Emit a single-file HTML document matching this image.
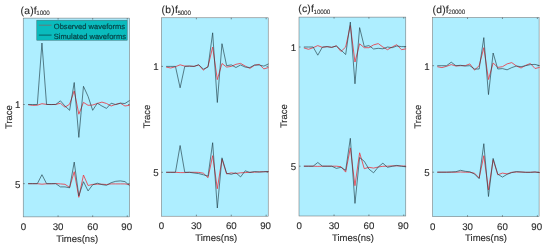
<!DOCTYPE html>
<html><head><meta charset="utf-8"><title>Waveform comparison</title>
<style>
html,body{margin:0;padding:0;background:#fff;}
body{width:550px;height:249px;overflow:hidden;}
svg{display:block;}
text{font-family:'Liberation Sans', Arial, Helvetica, sans-serif;fill:#2a2a2a;text-rendering:geometricPrecision;}
.t{font-size:10.3px;letter-spacing:0.25px;stroke:#2a2a2a;stroke-width:0.12;}
.s{font-size:6.3px;letter-spacing:-0.18px;stroke-width:0.08;}
.k{font-size:9.7px;stroke:#2a2a2a;stroke-width:0.12;}
.l{font-size:9.5px;stroke:#2a2a2a;stroke-width:0.12;}
.g{font-size:7.55px;fill:#073e42;stroke:#073e42;stroke-width:0.2;}
.b{fill:none;stroke:#1e3a44;stroke-opacity:0.85;stroke-width:0.75;stroke-linejoin:round;}
.r{fill:none;stroke:#ea3c48;stroke-width:0.85;stroke-linejoin:round;}
.ax{fill:#aeeeff;stroke:#666;stroke-width:0.5;}
.tk{stroke:#444;stroke-width:0.6;}
</style></head><body>
<svg width="550" height="249" viewBox="0 0 550 249">
<rect x="0" y="0" width="550" height="249" fill="#ffffff"/>
<g id="panel-a">
<rect class="ax" x="23.2" y="18.1" width="106.40" height="198.80"/>
<path class="tk" d="M58.09 18.1v1.5M58.09 216.9v-1.5M92.68 18.1v1.5M92.68 216.9v-1.5M127.27 18.1v1.5M127.27 216.9v-1.5M23.2 104.50h1.6M129.6 104.50h-1.6M23.2 183.65h1.6M129.6 183.65h-1.6"/>
<polyline class="r" points="28.11,104.7 32.72,105.4 37.34,105.2 41.95,103.7 46.56,104.4 51.17,104.6 55.78,104.4 60.40,103.3 65.01,107.2 69.62,104.2 74.23,90.9 78.84,114.2 83.46,102.4 88.07,105.3 92.68,105 97.29,103.5 101.90,102.1 106.52,103.5 111.13,106 115.74,104.3 120.35,103.2 124.96,106 129.58,105.3"/>
<polyline class="b" points="28.11,104.5 32.72,104.5 37.34,104.5 41.95,43 46.56,104.5 51.17,104.5 55.78,104.5 60.40,100.8 65.01,106 69.62,110.3 74.23,82.5 78.84,137.4 83.46,86.3 88.07,96.4 92.68,110.3 97.29,103.2 101.90,106 106.52,108.4 111.13,103.2 115.74,104.6 120.35,103.2 124.96,103.5 129.58,100.5"/>
<polyline class="r" points="28.11,183.7 32.72,183.7 37.34,183.7 41.95,184.2 46.56,183.8 51.17,183.8 55.78,183.6 60.40,183.9 65.01,184.3 69.62,187.4 74.23,171.7 78.84,197.3 83.46,175 88.07,185.5 92.68,184.4 97.29,184.2 101.90,184.2 106.52,184.5 111.13,183.9 115.74,183.9 120.35,183.9 124.96,183.9 129.58,184.6"/>
<polyline class="b" points="28.11,183.65 32.72,183.65 37.34,183.65 41.95,174.7 46.56,183.65 51.17,183.65 55.78,183.65 60.40,186.9 65.01,186.9 69.62,187.8 74.23,162.1 78.84,195.9 83.46,181.7 88.07,190.9 92.68,184.8 97.29,183.2 101.90,184.6 106.52,185.3 111.13,182.7 115.74,181.3 120.35,180.9 124.96,181.6 129.58,185.7"/>
<text class="t" x="20.5" y="13.6">(a)f<tspan class="s" dx="-0.6" dy="1.5">1000</tspan></text>
<text class="k" text-anchor="middle" x="23.50" y="230.1">0</text>
<text class="k" text-anchor="middle" x="58.09" y="230.1">30</text>
<text class="k" text-anchor="middle" x="92.68" y="230.1">60</text>
<text class="k" text-anchor="middle" x="126.67" y="230.1">90</text>
<text class="l" x="56.2" y="242.2">Times(ns)</text>
<text class="k" text-anchor="end" x="20.40" y="108.20">1</text>
<text class="k" text-anchor="end" x="20.40" y="187.60">5</text>
<text class="l" text-anchor="middle" transform="translate(11.60,117.10) rotate(-90)">Trace</text>
<rect x="36.8" y="20.2" width="90.4" height="20" fill="#0abbbd" stroke="#3a6a70" stroke-width="0.5"/>
<path d="M38.8 25.2H51.6" stroke="#8c5f5c" stroke-width="0.7"/>
<path d="M38.8 35.1H51.6" stroke="#063a40" stroke-width="0.7"/>
<text class="g" x="53.8" y="28.7">Observed waveforms</text>
<text class="g" x="53.8" y="38.5">Simulated waveforms</text>
</g>
<g id="panel-b">
<rect class="ax" x="161.4" y="17.8" width="106.80" height="198.40"/>
<path class="tk" d="M196.39 17.8v1.5M196.39 216.2v-1.5M231.28 17.8v1.5M231.28 216.2v-1.5M266.17 17.8v1.5M266.17 216.2v-1.5M161.4 66.40h1.6M268.2 66.40h-1.6M161.4 172.30h1.6M268.2 172.30h-1.6"/>
<polyline class="r" points="166.15,67.1 170.80,68 175.46,66.7 180.11,64.8 184.76,66.1 189.41,66.1 194.06,66.4 198.72,64.9 203.37,70.2 208.02,66.3 212.67,47.1 217.32,79.6 221.98,63.5 226.63,67.1 231.28,66.4 235.93,64.3 240.58,63.4 245.24,66.1 249.89,68.4 254.54,65.3 259.19,64.3 263.84,68.9 268.50,67.5"/>
<polyline class="b" points="166.15,66.4 170.80,66.4 175.46,66.4 180.11,87.8 184.76,66.4 189.41,66.1 194.06,66.4 198.72,64.8 203.37,69.1 208.02,67.1 212.67,32.8 217.32,102.5 221.98,43.7 226.63,65.7 231.28,64.9 235.93,67.5 240.58,65 245.24,67.1 249.89,67.5 254.54,65 259.19,65 263.84,66.1 268.50,63.9"/>
<polyline class="r" points="166.15,172.3 170.80,172.3 175.46,172.3 180.11,172.6 184.76,172.6 189.41,172.3 194.06,172.3 198.72,172.4 203.37,173.2 208.02,177.7 212.67,155.7 217.32,188.7 221.98,159.1 226.63,174 231.28,172.9 235.93,173.5 240.58,172.8 245.24,172.6 249.89,172.2 254.54,172.2 259.19,171.8 263.84,171.8 268.50,171.5"/>
<polyline class="b" points="166.15,172.3 170.80,172.3 175.46,172.3 180.11,145.5 184.76,172.3 189.41,172.3 194.06,173 198.72,173.6 203.37,174.8 208.02,176.1 212.67,142.7 217.32,208 221.98,157.8 226.63,173.3 231.28,174.3 235.93,172.8 240.58,176.9 245.24,170.8 249.89,172.6 254.54,171.5 259.19,172.1 263.84,171.7 268.50,171.5"/>
<text class="t" x="161.6" y="13.3">(b)f<tspan class="s" dx="-0.6" dy="1.5">5000</tspan></text>
<text class="k" text-anchor="middle" x="161.50" y="229.2">0</text>
<text class="k" text-anchor="middle" x="196.39" y="229.2">30</text>
<text class="k" text-anchor="middle" x="231.28" y="229.2">60</text>
<text class="k" text-anchor="middle" x="265.57" y="229.2">90</text>
<text class="l" x="195.3" y="241.2">Times(ns)</text>
<text class="k" text-anchor="end" x="158.60" y="70.20">1</text>
<text class="k" text-anchor="end" x="158.60" y="176.20">5</text>
<text class="l" text-anchor="middle" transform="translate(149.80,116.60) rotate(-90)">Trace</text>
</g>
<g id="panel-c">
<rect class="ax" x="299.0" y="17.1" width="106.80" height="198.90"/>
<path class="tk" d="M334.06 17.1v1.5M334.06 216.0v-1.5M368.92 17.1v1.5M368.92 216.0v-1.5M403.78 17.1v1.5M403.78 216.0v-1.5M299.0 47.00h1.6M405.8 47.00h-1.6M299.0 166.20h1.6M405.8 166.20h-1.6"/>
<polyline class="r" points="303.85,47.9 308.50,49.3 313.14,47.7 317.79,45.6 322.44,47.4 327.09,46.6 331.74,47.4 336.38,45.8 341.03,51.5 345.68,47 350.33,25.5 354.98,62 359.62,43.8 364.27,47.7 368.92,47.7 373.57,44.9 378.22,43.6 382.86,47 387.51,49.7 392.16,47 396.81,44.7 401.46,49.7 406.10,48.8"/>
<polyline class="b" points="303.85,47 308.50,47 313.14,47 317.79,55.2 322.44,47 327.09,46.7 331.74,47.3 336.38,46 341.03,50.1 345.68,54.5 350.33,22.1 354.98,83.8 359.62,27.6 364.27,46.6 368.92,45.6 373.57,49 378.22,48.3 382.86,48.8 387.51,47 392.16,47.7 396.81,46 401.46,46.6 406.10,46.6"/>
<polyline class="r" points="303.85,166.2 308.50,166.2 313.14,166.2 317.79,166.4 322.44,166.2 327.09,166.2 331.74,166.2 336.38,166.2 341.03,166.7 345.68,172.1 350.33,147.9 354.98,185.7 359.62,152.8 364.27,168.7 368.92,167.3 373.57,168.1 378.22,167 382.86,166.3 387.51,166.2 392.16,165.9 396.81,165.9 401.46,165.9 406.10,166.3"/>
<polyline class="b" points="303.85,166.2 308.50,166.2 313.14,166.2 317.79,162.5 322.44,166.2 327.09,166.2 331.74,166.2 336.38,168.4 341.03,167.3 345.68,170.3 350.33,138.3 354.98,203.4 359.62,157.5 364.27,161.3 368.92,169.1 373.57,172.8 378.22,167 382.86,163.2 387.51,167.3 392.16,166.3 396.81,165.4 401.46,166.3 406.10,166.8"/>
<text class="t" x="298.3" y="12.4">(c)f<tspan class="s" dx="-0.6" dy="1.5">10000</tspan></text>
<text class="k" text-anchor="middle" x="299.20" y="229.2">0</text>
<text class="k" text-anchor="middle" x="334.06" y="229.2">30</text>
<text class="k" text-anchor="middle" x="368.92" y="229.2">60</text>
<text class="k" text-anchor="middle" x="403.18" y="229.2">90</text>
<text class="l" x="332.0" y="240.9">Times(ns)</text>
<text class="k" text-anchor="end" x="296.20" y="50.70">1</text>
<text class="k" text-anchor="end" x="296.20" y="170.00">5</text>
<text class="l" text-anchor="middle" transform="translate(287.40,116.15) rotate(-90)">Trace</text>
</g>
<g id="panel-d">
<rect class="ax" x="432.5" y="17.5" width="106.60" height="199.20"/>
<path class="tk" d="M467.52 17.5v1.5M467.52 216.7v-1.5M502.44 17.5v1.5M502.44 216.7v-1.5M537.36 17.5v1.5M537.36 216.7v-1.5M432.5 65.70h1.6M539.1 65.70h-1.6M432.5 172.20h1.6M539.1 172.20h-1.6"/>
<polyline class="r" points="437.26,66.7 441.91,67.6 446.57,66.3 451.22,64.6 455.88,66.0 460.54,65.7 465.19,65.7 469.85,63.9 474.50,70.1 479.16,65.7 483.82,47.7 488.47,79.5 493.13,63.0 497.78,67.4 502.44,66.7 507.10,63.9 511.75,62.6 516.41,66.0 521.06,68.0 525.72,65.3 530.38,63.5 535.03,68.5 539.69,67.4"/>
<polyline class="b" points="437.26,65.7 441.91,65.7 446.57,65.7 451.22,62.2 455.88,65.7 460.54,65.3 465.19,66.0 469.85,65.7 474.50,69.0 479.16,69.0 483.82,37.6 488.47,94.6 493.13,53 497.78,69.0 502.44,68.6 507.10,69.8 511.75,67.6 516.41,66.0 521.06,66.7 525.72,65.7 530.38,64.6 535.03,64.4 539.69,65.7"/>
<polyline class="r" points="437.26,172.2 441.91,172.2 446.57,172.2 451.22,172.2 455.88,172.2 460.54,172 465.19,172.2 469.85,172.3 474.50,173.2 479.16,178 483.82,155.7 488.47,190 493.13,159.7 497.78,174.8 502.44,173.1 507.10,173.9 511.75,172.3 516.41,172 521.06,172 525.72,172.3 530.38,172.3 535.03,172 539.69,172.6"/>
<polyline class="b" points="437.26,172.2 441.91,172.2 446.57,172.2 451.22,172 455.88,171.7 460.54,170.3 465.19,171.3 469.85,171.8 474.50,174 479.16,178.7 483.82,143.7 488.47,196.5 493.13,158.4 497.78,174.2 502.44,177.1 507.10,174.3 511.75,172.6 516.41,171.6 521.06,172 525.72,172.3 530.38,172.3 535.03,172 539.69,172.6"/>
<text class="t" x="432.5" y="12.9">(d)f<tspan class="s" dx="-0.6" dy="1.5">20000</tspan></text>
<text class="k" text-anchor="middle" x="432.60" y="229.5">0</text>
<text class="k" text-anchor="middle" x="467.52" y="229.5">30</text>
<text class="k" text-anchor="middle" x="502.44" y="229.5">60</text>
<text class="k" text-anchor="middle" x="536.76" y="229.5">90</text>
<text class="l" x="465.1" y="241.3">Times(ns)</text>
<text class="k" text-anchor="end" x="429.70" y="70.00">1</text>
<text class="k" text-anchor="end" x="429.70" y="176.20">5</text>
<text class="l" text-anchor="middle" transform="translate(420.90,116.70) rotate(-90)">Trace</text>
</g>
</svg></body></html>
